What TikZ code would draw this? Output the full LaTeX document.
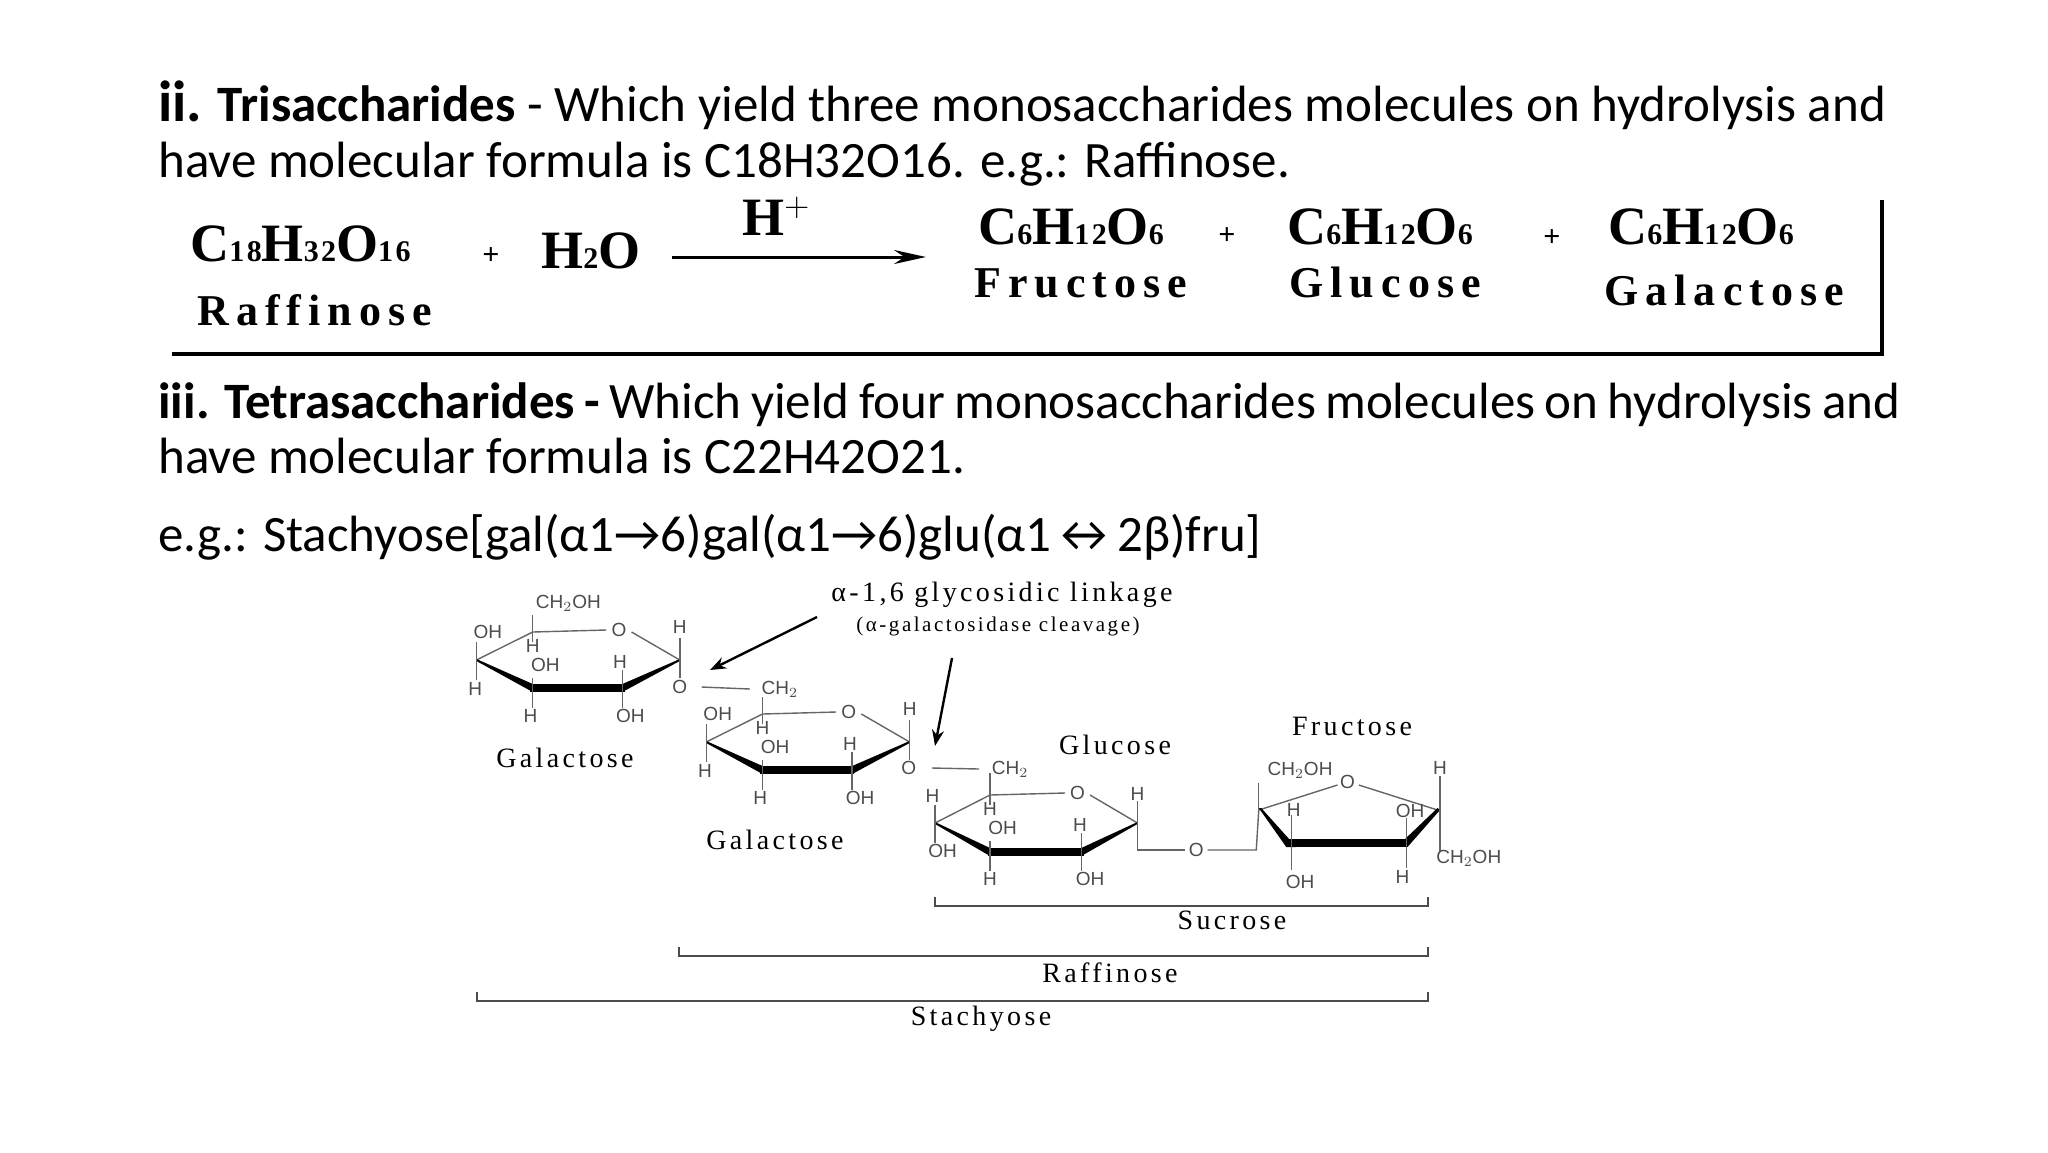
\documentclass[tikz,border=0pt]{standalone}
\usepackage{fontspec}
\setmainfont{Carlito}
\newfontfamily\rx[LetterSpace=16]{Liberation Serif}
\newfontfamily\rf[LetterSpace=8]{Liberation Serif}
\newfontfamily\rl[LetterSpace=12]{Liberation Serif}
\newfontfamily\ax{Liberation Sans}
\usetikzlibrary{arrows.meta}
\begin{document}
\begin{tikzpicture}[x=0.5pt,y=-0.5pt,
  txt/.style={anchor=base west,inner sep=0,font=\fontsize{25.5}{27.5}\selectfont},
  rxt/.style={anchor=base west,inner sep=0,font=\rx\bfseries\fontsize{22}{24}\selectfont},
  fxt/.style={anchor=base west,inner sep=0,font=\rf\bfseries\fontsize{27}{28}\selectfont},
  atm/.style={inner sep=0,font=\ax\fontsize{9.5}{10}\selectfont,text=black!70},
  lbl/.style={inner sep=0,font=\rl\fontsize{14}{16}\selectfont},
  bk/.style={draw=black!60,line width=0.7pt},
  fr/.style={fill=black},
  brk/.style={draw=black!70,line width=0.8pt}]
\useasboundingbox (0,0) rectangle (2048,1152);
\fill[white] (0,0) rectangle (2048,1152);
% text
\node[txt] (l1) at (158,121) {{\bfseries\fontsize{29}{30}\selectfont ii.} \textbf{Trisaccharides} - Which yield three monosaccharides molecules on hydrolysis and};
\node[txt] (l2) at (158,177) {have molecular formula is C18H32O16. e.g.: Raffinose.};
\node[txt,text width=871pt,align=justify] (l3) at (158,418) {\textbf{iii. Tetrasaccharides -} Which yield four monosaccharides molecules on hydrolysis and have molecular formula is C22H42O21.};
\node[txt] (l5) at (158,551) {e.g.: Stachyose[gal(α1→6)gal(α1→6)glu(α1↔2β)fru]};
% reaction
\newcommand{\sm}[1]{{\fontsize{15}{15}\selectfont #1}}
\draw[line width=1.6pt] (172,354) -- (1882,354) -- (1882,200);
\node[fxt] (r1) at (190,261) {C\sm{18}H\sm{32}O\sm{16}};
\node[rxt] (r2) at (197,325) {Raffinose};
\node[rxt] (pl1) at (482,264) {\sm{+}};
\node[fxt] (r3) at (541,268) {H\sm{2}O};
\node[fxt] (hp) at (742,235) {H$^{\mathbf{+}}$};
\coordinate (a1) at (672,257); \coordinate (a2) at (926,257);
\draw[line width=1.5pt,-{Stealth[length=16pt,width=7pt]}] (a1) -- (a2);
\node[fxt] (p1) at (978,244) {C\sm{6}H\sm{12}O\sm{6}};
\node[rxt] (pl0) at (1218,244) {\sm{+}};
\node[rxt] (f1) at (974,297) {Fructose};
\node[fxt] (p2) at (1287,244) {C\sm{6}H\sm{12}O\sm{6}};
\node[rxt] (g1) at (1289,297) {Glucose};
\node[rxt] (pl2) at (1543,246) {\sm{+}};
\node[fxt] (p3) at (1608,244) {C\sm{6}H\sm{12}O\sm{6}};
\node[rxt] (ga1) at (1604,305) {Galactose};
% pyranose macro
\newcommand{\pyr}[2]{%
\begin{scope}[shift={(#1,#2)}]
 \draw[bk] (0,0) -- (49,-28) -- (113,-30); \draw[bk] (135,-28) -- (177,0);
 \node[atm] at (124,-30) {O};
 \fill[fr] (0,-1) -- (49,24) -- (49,32) -- (0,1) -- cycle;
 \fill[fr] (47,24) rectangle (129,32);
 \fill[fr] (127,24) -- (177,-1) -- (177,1) -- (127,32) -- cycle;
 \draw[bk] (0,-18) -- (0,20); \draw[bk] (49,-45) -- (49,-18);
 \draw[bk] (49,18) -- (49,48); \draw[bk] (127,10) -- (127,48);
 \draw[bk] (177,-22) -- (177,18);
\end{scope}}
\begin{scope}[shift={(450,570)},xscale=1.149,shift={(-450,-570)}]
\pyr{473}{660}
\pyr{673}{742}
% gal1 labels
\node[atm] (g1a) at (553,603) {CH$_2$OH};
\node[atm] at (483,632) {OH};
\node[atm] at (650,627) {H};
\node[atm] at (472,689) {H};
\node[atm] at (522,646) {H};
\node[atm] at (533,665) {OH};
\node[atm] at (598,662) {H};
\node[atm] at (520,716) {H};
\node[atm] at (607,716) {OH};
\node[atm] (o1) at (650,687) {O};
\node[atm] (c1) at (737,689) {CH$_2$};
\draw[bk] ([xshift=6]o1.east) -- ([xshift=-5]c1.west);
% gal2 labels
\node[atm] at (683,714) {OH};
\node[atm] at (850,709) {H};
\node[atm] at (672,771) {H};
\node[atm] at (722,728) {H};
\node[atm] at (733,747) {OH};
\node[atm] at (798,744) {H};
\node[atm] at (720,798) {H};
\node[atm] at (807,798) {OH};
\end{scope}
\begin{scope}[shift={(900,680)},xscale=1.25,shift={(-900,-680)}]
% glucose
\begin{scope}[shift={(928,823)}]
 \draw[bk] (0,0) -- (44,-28) -- (104,-30); \draw[bk] (124,-28) -- (162,0);
 \node[atm] at (114,-30) {O};
 \fill[fr] (0,-1) -- (44,25) -- (44,33) -- (0,1) -- cycle;
 \fill[fr] (42,25) rectangle (119,33);
 \fill[fr] (117,25) -- (162,-1) -- (162,1) -- (117,33) -- cycle;
 \draw[bk] (0,-18) -- (0,20); \draw[bk] (44,-50) -- (44,-18);
 \draw[bk] (44,18) -- (44,48); \draw[bk] (117,10) -- (117,48);
 \draw[bk] (162,-22) -- (162,27) -- (200,27);
 \draw[bk] (218,27) -- (257,27) -- (259,-13);
\end{scope}
\node[atm] at (1137,850) {O};
\node[atm] at (926,796) {H};
\node[atm] at (934,851) {OH};
\node[atm] at (972,809) {H};
\node[atm] at (982,828) {OH};
\node[atm] at (1044,825) {H};
\node[atm] at (1090,794) {H};
\node[atm] at (972,879) {H};
\node[atm] at (1052,879) {OH};
\node[atm] (o3) at (907,768) {O};
\node[atm] (c3) at (988,769) {CH$_2$};
\draw[bk] ([xshift=6]o3.east) -- ([xshift=-5]c3.west);
% fructose
\draw[bk] (1187,810) -- (1250,785); \draw[bk] (1267,785) -- (1330,810);
\node[atm] at (1258,782) {O};
\fill[fr] (1187,808) -- (1209,847) -- (1217,847) -- (1189,808) -- cycle;
\fill[fr] (1211,839) rectangle (1306,847);
\fill[fr] (1304,839) -- (1330,808) -- (1332,810) -- (1306,847) -- cycle;
\draw[bk] (1187,783) -- (1187,812);
\draw[bk] (1213,815) -- (1213,870);
\draw[bk] (1305,818) -- (1305,868);
\draw[bk,line width=1pt] (1332,776) -- (1332,852);
\node[atm] at (1220,770) {CH$_2$OH};
\node[atm] at (1332,768) {H};
\node[atm] at (1355,858) {CH$_2$OH};
\node[atm] at (1215,810) {H};
\node[atm] at (1308,811) {OH};
\node[atm] at (1220,882) {OH};
\node[atm] at (1302,877) {H};
\end{scope}
% names
\node[lbl] (gal1) at (565,758) {Galactose};
\node[lbl] (gal2) at (775,840) {Galactose};
\node[lbl] (glc) at (1115,745) {Glucose};
\node[lbl] (fru) at (1352,726) {Fructose};
% brackets
\draw[brk] (935,897) -- (935,906) -- (1428,906) -- (1428,897);
\node[lbl] (suc) at (1232,920) {Sucrose};
\draw[brk] (679,947) -- (679,956) -- (1428,956) -- (1428,947);
\node[lbl] (raf) at (1110,973) {Raffinose};
\draw[brk] (477,992) -- (477,1001) -- (1428,1001) -- (1428,992);
\node[lbl] (sta) at (981,1019) {Stachyose};
% arrows
\node[lbl] (al) at (1002,595) {α-1,6 glycosidic linkage};
\node[lbl,font=\rl\fontsize{10.5}{12}\selectfont] (al2) at (998,626) {(α-galactosidase cleavage)};
\coordinate (s1) at (817,617); \coordinate (t1) at (710,670);
\coordinate (s2) at (952,658); \coordinate (t2) at (935,746);
\draw[line width=1.2pt,-{Stealth[length=8pt,width=6pt]}] (s1) -- (t1);
\draw[line width=1.2pt,-{Stealth[length=8pt,width=6pt]}] (s2) -- (t2);
\end{tikzpicture}
\end{document}
